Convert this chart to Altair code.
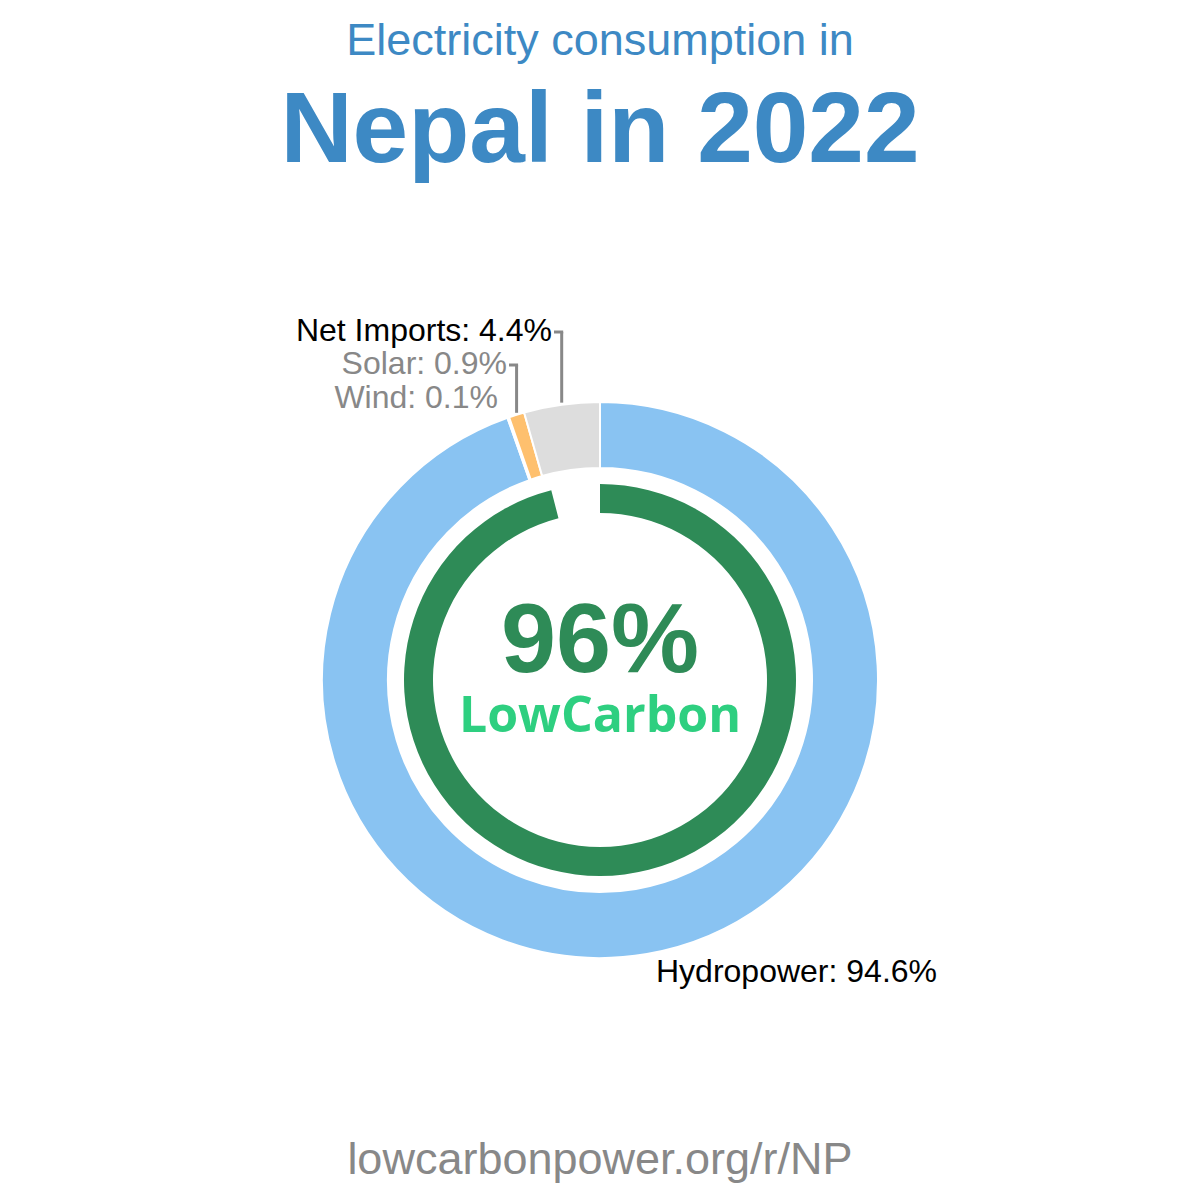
import math
import altair as alt
import pandas as pd

# ---------------- data ----------------
sources = ["Hydropower", "Wind", "Solar", "Net Imports"]
shares = [94.6, 0.1, 0.9, 4.4]
slice_colors = ["#89c3f2", "#a8d8a0", "#fec06e", "#dddddd"]
label_colors = ["#000000", "#888888", "#888888", "#000000"]
low_carbon_share = 96
title_line1 = "Electricity consumption in"
title_line2 = "Nepal in 2022"
footer = "lowcarbonpower.org/r/NP"

# ---------------- layout (chart pixel space; page = chart + 8) ----------------
OFF = 8
W = H = 1184
CX, CY = 600 - OFF, 680 - OFF
R_OUT, R_IN = 278, 212
G_OUT, G_IN = 196, 167
LABEL_FONT = "Liberation Sans"

# label anchor positions (page coords) : (x, baseline, align)
label_pos = {
    "Net Imports": (552, 341, "right"),
    "Solar": (507, 374, "right"),
    "Wind": (498, 408, "right"),
    "Hydropower": (656, 982, "left"),
}
leader_for = ["Net Imports", "Solar"]

# ---------------- tables ----------------
ring = pd.DataFrame({
    "source": sources,
    "share": shares,
    "idx": list(range(len(sources))),
})

labels = pd.DataFrame({
    "source": sources,
    "text": [f"{s}: {v}%" for s, v in zip(sources, shares)],
    "color": label_colors,
    "x": [label_pos[s][0] - OFF for s in sources],
    "y": [label_pos[s][1] - OFF for s in sources],
    "align": [label_pos[s][2] for s in sources],
})

# leader lines derived from slice midpoints
segs = []
cum = 0.0
total = sum(shares)
for s, v in zip(sources, shares):
    mid = (cum + v / 2) / total * 2 * math.pi
    cum += v
    if s in leader_for:
        vx = CX + R_OUT * math.sin(mid)
        vy_bottom = CY - R_OUT * math.cos(mid) - 2
        lx, lb, _ = label_pos[s]
        ly = lb - OFF - 9
        segs.append({"x": lx - OFF + 2, "x2": vx + 1.5, "y": ly, "y2": ly})
        segs.append({"x": vx, "x2": vx, "y": ly, "y2": vy_bottom})
leaders = pd.DataFrame(segs)

# ---------------- marks ----------------
outer = alt.Chart(ring).mark_arc(
    innerRadius=R_IN, outerRadius=R_OUT, stroke="white", strokeWidth=2
).encode(
    theta=alt.Theta("share:Q", stack=True, scale=alt.Scale(domain=[0, 100])),
    order=alt.Order("idx:Q"),
    color=alt.Color("source:N", scale=alt.Scale(domain=sources, range=slice_colors), legend=None),
    x=alt.value(CX),
    y=alt.value(CY),
)

inner = alt.Chart(pd.DataFrame({"v": [low_carbon_share]})).mark_arc(
    innerRadius=G_IN, outerRadius=G_OUT, color="#2e8b57"
).encode(
    theta=alt.Theta("v:Q", stack=True, scale=alt.Scale(domain=[0, 100])),
    x=alt.value(CX),
    y=alt.value(CY),
)

lead = alt.Chart(leaders).mark_rule(color="#888888", strokeWidth=3).encode(
    x=alt.X("x:Q", scale=None),
    x2="x2:Q",
    y=alt.Y("y:Q", scale=None),
    y2="y2:Q",
)

def label_layer(align):
    return alt.Chart(labels[labels["align"] == align]).mark_text(
        align=align, baseline="alphabetic", font=LABEL_FONT, fontSize=32
    ).encode(
        x=alt.X("x:Q", scale=None),
        y=alt.Y("y:Q", scale=None),
        text="text:N",
        color=alt.Color("color:N", scale=None),
    )

def single_text(txt, x, y, size, color, weight="normal", font=LABEL_FONT):
    return alt.Chart(pd.DataFrame({"t": [txt]})).mark_text(
        align="center", baseline="alphabetic", font=font, fontSize=size,
        fontWeight=weight, color=color
    ).encode(text="t:N", x=alt.value(x), y=alt.value(y))

t1 = single_text(title_line1, 600 - OFF, 55 - OFF, 45, "#3d89c4")
t2 = single_text(title_line2, 600 - OFF, 162 - OFF, 100, "#3d89c4", "bold")
pct = single_text(f"{low_carbon_share}%", 600 - OFF, 672 - OFF, 99, "#2e8b57", "bold")
lc = single_text("LowCarbon", 600 - OFF, 732 - OFF, 50, "#2ecf80", "bold", "Open Sans")
foot = single_text(footer, 600 - OFF, 1174 - OFF, 45, "#888888")

chart = alt.layer(
    outer, inner, lead, label_layer("right"), label_layer("left"),
    t1, t2, pct, lc, foot
).resolve_scale(theta="independent", color="independent").properties(
    width=W, height=H, padding=0, autosize=alt.AutoSizeParams(type="none"),
    background="white",
).configure_view(stroke=None)

chart.save("out.html", embed_options={"renderer": "svg", "actions": False})
